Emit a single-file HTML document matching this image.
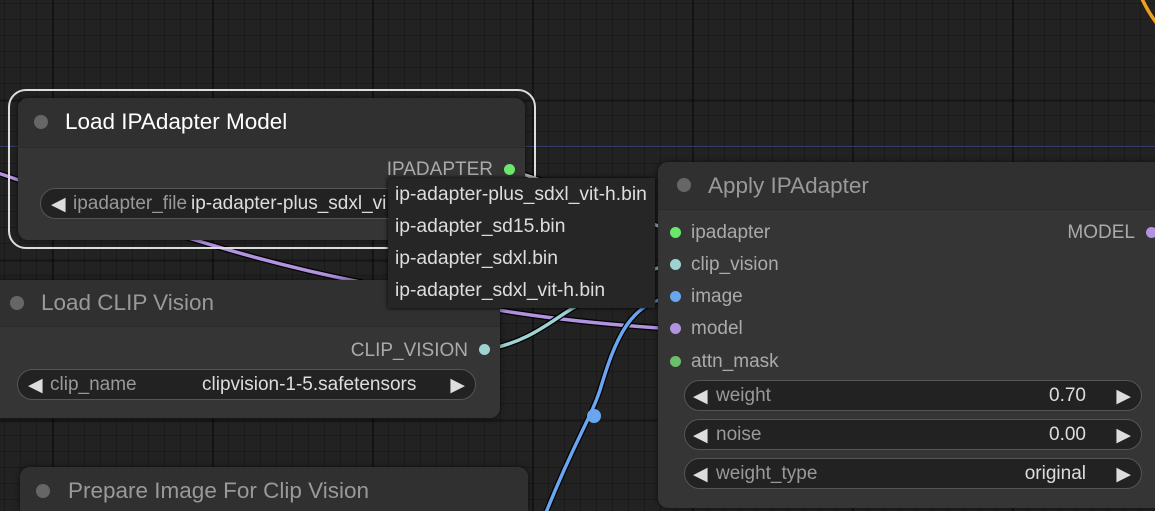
<!DOCTYPE html>
<html style="overflow:hidden;height:511px"><head><meta charset="utf-8"><style>
body{margin:0;width:1155px;height:511px;overflow:hidden;background:#222;font-family:"Liberation Sans",sans-serif;position:relative}
.grid{position:absolute;inset:0;background:
linear-gradient(90deg,rgba(0,0,0,.35) 2px,transparent 2px) 52px 0/160px 160px,
linear-gradient(rgba(0,0,0,.3) 2px,transparent 2px) 0 100px/160px 160px,
linear-gradient(90deg,rgba(0,0,0,.22) 1px,transparent 1px) 4px 0/16px 16px,
linear-gradient(rgba(0,0,0,.22) 1px,transparent 1px) 0 3px/16px 16px;}
.node{position:absolute;background:#353535;border-radius:10px;box-shadow:0 0 6px rgba(0,0,0,.6)}
.title{position:absolute;left:0;right:0;top:0;height:49px;border-bottom:1px solid #2b2b2b;background:#303030;border-radius:10px 10px 0 0}
.t{position:absolute;font-size:22.5px;color:#999;white-space:nowrap}
.dot{position:absolute;width:14px;height:14px;border-radius:50%;background:#666}
.s{position:absolute;width:11px;height:11px;border-radius:50%}
.l{position:absolute;font-size:19px;color:#aaa;white-space:nowrap}
.w{position:absolute;background:#222;border:1px solid #555;border-radius:16px;height:29px;color:#999;font-size:19px}
.w span{position:absolute;top:4px;white-space:nowrap}
.menu{position:absolute;left:388px;top:178px;width:267px;height:130px;background:#262626;box-shadow:0 0 4px #000}
.menu div{position:absolute;left:7px;font-size:19.3px;color:#ddd;white-space:nowrap}
</style></head><body>
<div class="grid"></div>
<div style="position:absolute;left:0;right:0;top:146px;height:1px;background:#35406a"></div>
<svg width="1155" height="511" style="position:absolute;left:0;top:0">
<g fill="none" stroke-linecap="round">
<path d="M-5 172 C80 200 200 250 360 282 C480 310 560 322 675 329" stroke="#000" stroke-width="6"/>
<path d="M-5 172 C80 200 200 250 360 282 C480 310 560 322 675 329" stroke="#b293e0" stroke-width="3.5"/>
<path d="M485 350 C540 340 560 310 590 300 C620 288 640 268 675 265" stroke="#000" stroke-width="6"/>
<path d="M485 350 C540 340 560 310 590 300 C620 288 640 268 675 265" stroke="#9fd3d3" stroke-width="3.5"/>
<path d="M545 515 C575 440 590 420 600 390 C615 340 630 300 675 297" stroke="#000" stroke-width="6"/>
<path d="M545 515 C575 440 590 420 600 390 C615 340 630 300 675 297" stroke="#6aa6ef" stroke-width="3.5"/>
<path d="M509 170 C560 185 620 210 675 233" stroke="#000" stroke-width="6"/>
<path d="M509 170 C560 185 620 210 675 233" stroke="#ccc" stroke-width="3.5"/>
<path d="M1140 -5 C1145 5 1150 15 1158 25" stroke="#f0a020" stroke-width="3.5"/>
</g>
<circle cx="594" cy="416" r="7" fill="#6aa6ef"/>
</svg>
<!-- Load IPAdapter Model -->
<div style="position:absolute;left:8px;top:89px;width:524px;height:156px;border:2px solid #ddd;border-radius:18px"></div>
<div class="node" style="left:18px;top:98px;width:507px;height:142px">
<div class="title"></div>
<div class="dot" style="left:16px;top:17px"></div>
<div class="t" style="left:47px;top:11px;color:#fff">Load IPAdapter Model</div>
<div class="l" style="right:32px;top:61px">IPADAPTER</div>
<div class="s" style="left:486px;top:66px;background:#6be86b"></div>
<div class="w" style="left:22px;top:90px;width:470px"><span style="left:10px;color:#ddd">◀</span><span style="left:32px">ipadapter_file</span><span style="left:150px;color:#ddd">ip-adapter-plus_sdxl_vi</span></div>
</div>
<!-- Load CLIP Vision -->
<div class="node" style="left:-10px;top:280px;width:510px;height:138px">
<div class="title" style="height:46px"></div>
<div class="dot" style="left:20px;top:16px"></div>
<div class="t" style="left:51px;top:10px">Load CLIP Vision</div>
<div class="l" style="right:32px;top:60px">CLIP_VISION</div>
<div class="s" style="left:489px;top:64px;background:#9fd3d3"></div>
<div class="w" style="left:27px;top:89px;width:457px"><span style="left:10px;color:#ddd">◀</span><span style="left:32px">clip_name</span><span style="left:184px;color:#ddd">clipvision-1-5.safetensors</span><span style="right:10px;color:#ddd">▶</span></div>
</div>
<!-- Prepare -->
<div class="node" style="left:20px;top:467px;width:508px;height:44px;border-radius:10px 10px 0 0">
<div class="title" style="height:44px;border:none"></div>
<div class="dot" style="left:16px;top:17px"></div>
<div class="t" style="left:48px;top:11px">Prepare Image For Clip Vision</div>
</div>
<!-- Apply IPAdapter -->
<div class="node" style="left:658px;top:162px;width:510px;height:346px">
<div class="title" style="height:47px"></div>
<div class="dot" style="left:19px;top:16px"></div>
<div class="t" style="left:50px;top:11px">Apply IPAdapter</div>
<div class="s" style="left:12px;top:65px;background:#6be86b"></div><div class="l" style="left:33px;top:60px">ipadapter</div>
<div class="s" style="left:12px;top:97px;background:#9fd3d3"></div><div class="l" style="left:33px;top:92px">clip_vision</div>
<div class="s" style="left:12px;top:129px;background:#6aa6ef"></div><div class="l" style="left:33px;top:124px">image</div>
<div class="s" style="left:12px;top:161px;background:#b293e0"></div><div class="l" style="left:33px;top:156px">model</div>
<div class="s" style="left:12px;top:194px;background:#6bbf6b"></div><div class="l" style="left:33px;top:189px">attn_mask</div>
<div class="l" style="right:33px;top:60px">MODEL</div>
<div class="s" style="left:488px;top:65px;background:#b293e0"></div>
<div class="w" style="left:26px;top:218px;width:456px"><span style="left:8px;color:#ddd">◀</span><span style="left:31px">weight</span><span style="right:55px;color:#ddd">0.70</span><span style="right:10px;color:#ddd">▶</span></div>
<div class="w" style="left:26px;top:257px;width:456px"><span style="left:8px;color:#ddd">◀</span><span style="left:31px">noise</span><span style="right:55px;color:#ddd">0.00</span><span style="right:10px;color:#ddd">▶</span></div>
<div class="w" style="left:26px;top:296px;width:456px"><span style="left:8px;color:#ddd">◀</span><span style="left:31px">weight_type</span><span style="right:55px;color:#ddd">original</span><span style="right:10px;color:#ddd">▶</span></div>
</div>
<div class="menu">
<div style="top:6px">ip-adapter-plus_sdxl_vit-h.bin</div>
<div style="top:38px">ip-adapter_sd15.bin</div>
<div style="top:70px">ip-adapter_sdxl.bin</div>
<div style="top:102px">ip-adapter_sdxl_vit-h.bin</div>
</div>
</body></html>
